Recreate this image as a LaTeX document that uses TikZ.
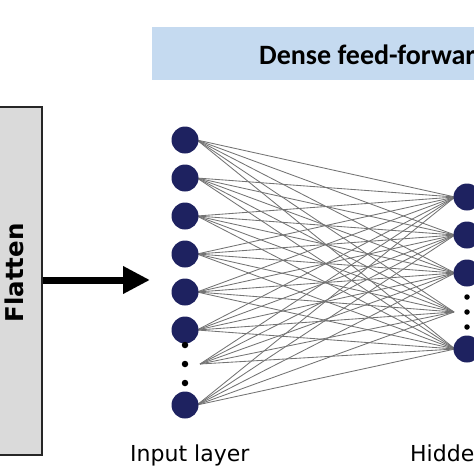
\documentclass[tikz,border=0pt]{standalone}
\usepackage{fontspec}
\setmainfont{DejaVu Sans}
\newfontfamily\bannerfont{Carlito}
\usepackage{tikz}
\usetikzlibrary{arrows.meta,positioning,calc}

\definecolor{neuron}{RGB}{30,34,96}
\definecolor{banner}{RGB}{197,218,240}
\definecolor{flatgray}{RGB}{218,218,218}

\tikzset{
  neuronnode/.style={circle,fill=neuron,minimum size=27pt,inner sep=0pt},
  dotnode/.style={circle,fill=black,minimum size=6.5pt,inner sep=0pt},
  weight/.style={draw=black!55,line width=0.85pt},
  layerlabel/.style={font=\fontsize{22}{26}\selectfont,anchor=base west,inner sep=0pt}
}

\begin{document}
\begin{tikzpicture}[x=1pt,y=-1pt]
\useasboundingbox (0,0) rectangle (474,474);
% banner
\fill[banner] (152,27) rectangle (500,80);
\node[anchor=base west,inner sep=0pt,font=\bannerfont\bfseries\fontsize{28}{32}\selectfont] (title) at (259,64) {Dense feed-forward};
% flatten block
\node[rectangle,draw=black!85,line width=1.6pt,fill=flatgray,minimum width=54pt,minimum height=348pt,inner sep=0pt] (flat) at (15,281) {};
\node[rotate=90,font=\bfseries\fontsize{24.5}{28}\selectfont] (flatlbl) at (14,273) {Flatten};
\coordinate (tip) at (150,280);
\draw[line width=7pt,-{Triangle[length=27pt,width=26pt]}] (flat.east |- tip) -- (tip);
% input layer
\foreach \i/\y in {1/140,2/178,3/216,4/254,5/292,6/330,7/405}
  \coordinate (in\i) at (185,\y);
\foreach \i/\y in {1/345,2/364,3/383}
  \coordinate (ind\i) at (185,\y);
\coordinate (indots) at (200,364);
% hidden layer
\foreach \j/\y in {1/197,2/235,3/273,4/349}
  \coordinate (hid\j) at (467,\y);
\foreach \j/\y in {1/297,2/312,3/327}
  \coordinate (hidd\j) at (467,\y);
\coordinate (hiddots) at (454,312);
% connections
\foreach \i in {1,...,7}{
  \foreach \j in {1,...,4}
    \draw[weight] ($(in\i)+(12,0)$) -- ($(hid\j)+(-12,0)$);
  \draw[weight] ($(in\i)+(12,0)$) -- (hiddots);
}
\foreach \j in {1,...,4}
  \draw[weight] (indots) -- ($(hid\j)+(-12,0)$);
\draw[weight] (indots) -- (hiddots);
% neurons
\foreach \i in {1,...,7}
  \node[neuronnode] (nin\i) at (in\i) {};
\foreach \i in {1,2,3}
  \node[dotnode] (ndin\i) at (ind\i) {};
\foreach \j in {1,...,4}
  \node[neuronnode] (nhid\j) at (hid\j) {};
\foreach \j in {1,2,3}
  \node[dotnode,minimum size=5.5pt] (ndhid\j) at (hidd\j) {};
% labels
\node[layerlabel] (inlbl) at (130,461) {Input layer};
\node[layerlabel] (hidlbl) at (410,461) {Hidden layer};
\end{tikzpicture}
\end{document}
